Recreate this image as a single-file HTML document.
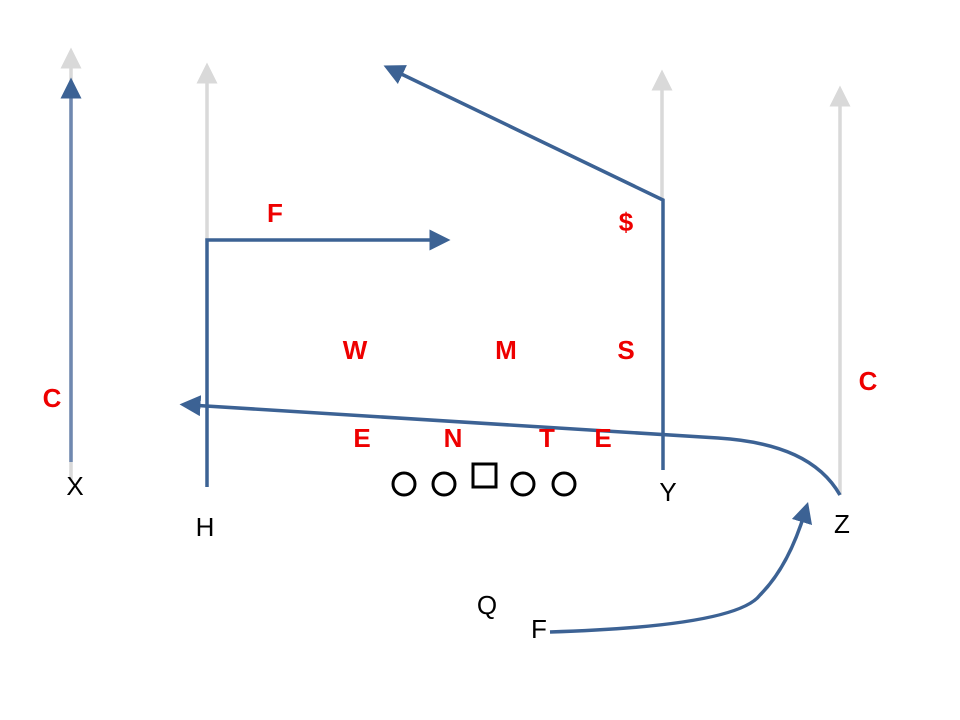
<!DOCTYPE html>
<html><head><meta charset="utf-8"><style>
html,body{margin:0;padding:0;background:#fff}
svg{display:block}
.r{font-family:"Liberation Sans",sans-serif;font-weight:bold;font-size:26px;fill:#ee0000;text-anchor:middle}
.b{font-family:"Liberation Sans",sans-serif;font-size:26px;fill:#000;text-anchor:middle}
</style></head><body>
<svg width="960" height="720" viewBox="0 0 960 720">
<defs>
<marker id="g" markerWidth="6" markerHeight="6" refX="3" refY="3" orient="auto" markerUnits="strokeWidth"><path d="M0,0 L6,3 L0,6 z" fill="#d9d9d9"/></marker>
<marker id="bl" markerWidth="6" markerHeight="6" refX="3" refY="3" orient="auto" markerUnits="strokeWidth"><path d="M0,0 L6,3 L0,6 z" fill="#3c6294"/></marker>
</defs>
<g stroke="#d9d9d9" stroke-width="3.5" fill="none">
<line x1="71" y1="480" x2="71" y2="58" marker-end="url(#g)"/>
<line x1="207" y1="240" x2="207" y2="73" marker-end="url(#g)"/>
<line x1="662" y1="200" x2="662" y2="80" marker-end="url(#g)"/>
<line x1="840" y1="495" x2="840" y2="96" marker-end="url(#g)"/>
</g>
<g stroke="#3c6294" stroke-width="3.5" fill="none">
<line x1="71" y1="462" x2="71" y2="88" stroke="#6f88b0" marker-end="url(#bl)"/>
<polyline points="207,487 207,240 440,240" marker-end="url(#bl)"/>
<polyline points="663,470 663,200 393,70" marker-end="url(#bl)"/>
<path d="M840,495 C820,460 780,442 718,438 L190,405" marker-end="url(#bl)"/>
<path d="M550,632 C680,628 745,615 760,595 C780,575 795,545 805,512" marker-end="url(#bl)"/>
</g>
<g stroke="#000" stroke-width="3" fill="none">
<circle cx="404" cy="484" r="11"/>
<circle cx="444" cy="484" r="11"/>
<rect x="473" y="464" width="23" height="23"/>
<circle cx="523" cy="484" r="11"/>
<circle cx="564" cy="484" r="11"/>
</g>
<text class="r" x="275" y="222">F</text>
<text class="r" x="626" y="231">$</text>
<text class="r" x="355" y="359">W</text>
<text class="r" x="506" y="359">M</text>
<text class="r" x="626" y="359">S</text>
<text class="r" x="52" y="407">C</text>
<text class="r" x="868" y="390">C</text>
<text class="r" x="362" y="447">E</text>
<text class="r" x="453" y="447">N</text>
<text class="r" x="547" y="447">T</text>
<text class="r" x="603" y="447">E</text>
<text class="b" x="75" y="495">X</text>
<text class="b" x="205" y="536">H</text>
<text class="b" x="668" y="501">Y</text>
<text class="b" x="842" y="533">Z</text>
<text class="b" x="487" y="614">Q</text>
<text class="b" x="539" y="638">F</text>
</svg>
</body></html>
